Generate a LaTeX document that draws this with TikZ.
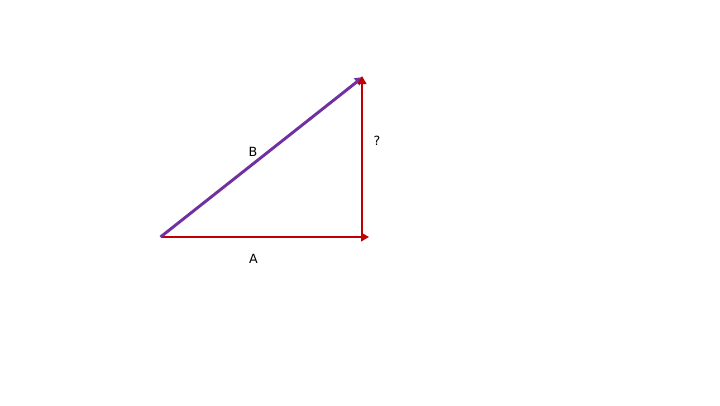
\documentclass[tikz,border=0pt]{standalone}
\usepackage{fontspec}
\setmainfont{DejaVu Sans}
\usetikzlibrary{arrows.meta}
\definecolor{vred}{HTML}{C00000}
\definecolor{vpurple}{HTML}{7030A0}
\tikzset{
  vec/.style={line width=2.2pt,-{Triangle[length=6pt,width=6.5pt]}},
  lbl/.style={font=\fontsize{9.5}{11}\selectfont,inner sep=0pt}
}
\begin{document}
\begin{tikzpicture}[x=0.75pt,y=-0.75pt]
\useasboundingbox (0,0) rectangle (720,405);
\coordinate (o) at (160.5,237);
\coordinate (a) at (369,237);
\coordinate (c) at (362,238.1);
\coordinate (t) at (362,76);
\coordinate (b) at (363,77);
\draw[vec,vred] (o) -- (a);
\draw[vec,vpurple] (o) -- (b);
\draw[vec,vred] (c) -- (t);
\node[lbl] (lb) at (253,152) {B};
\node[lbl] (la) at (253.5,259) {A};
\node[lbl] (lq) at (377,141) {?};
\end{tikzpicture}
\end{document}
